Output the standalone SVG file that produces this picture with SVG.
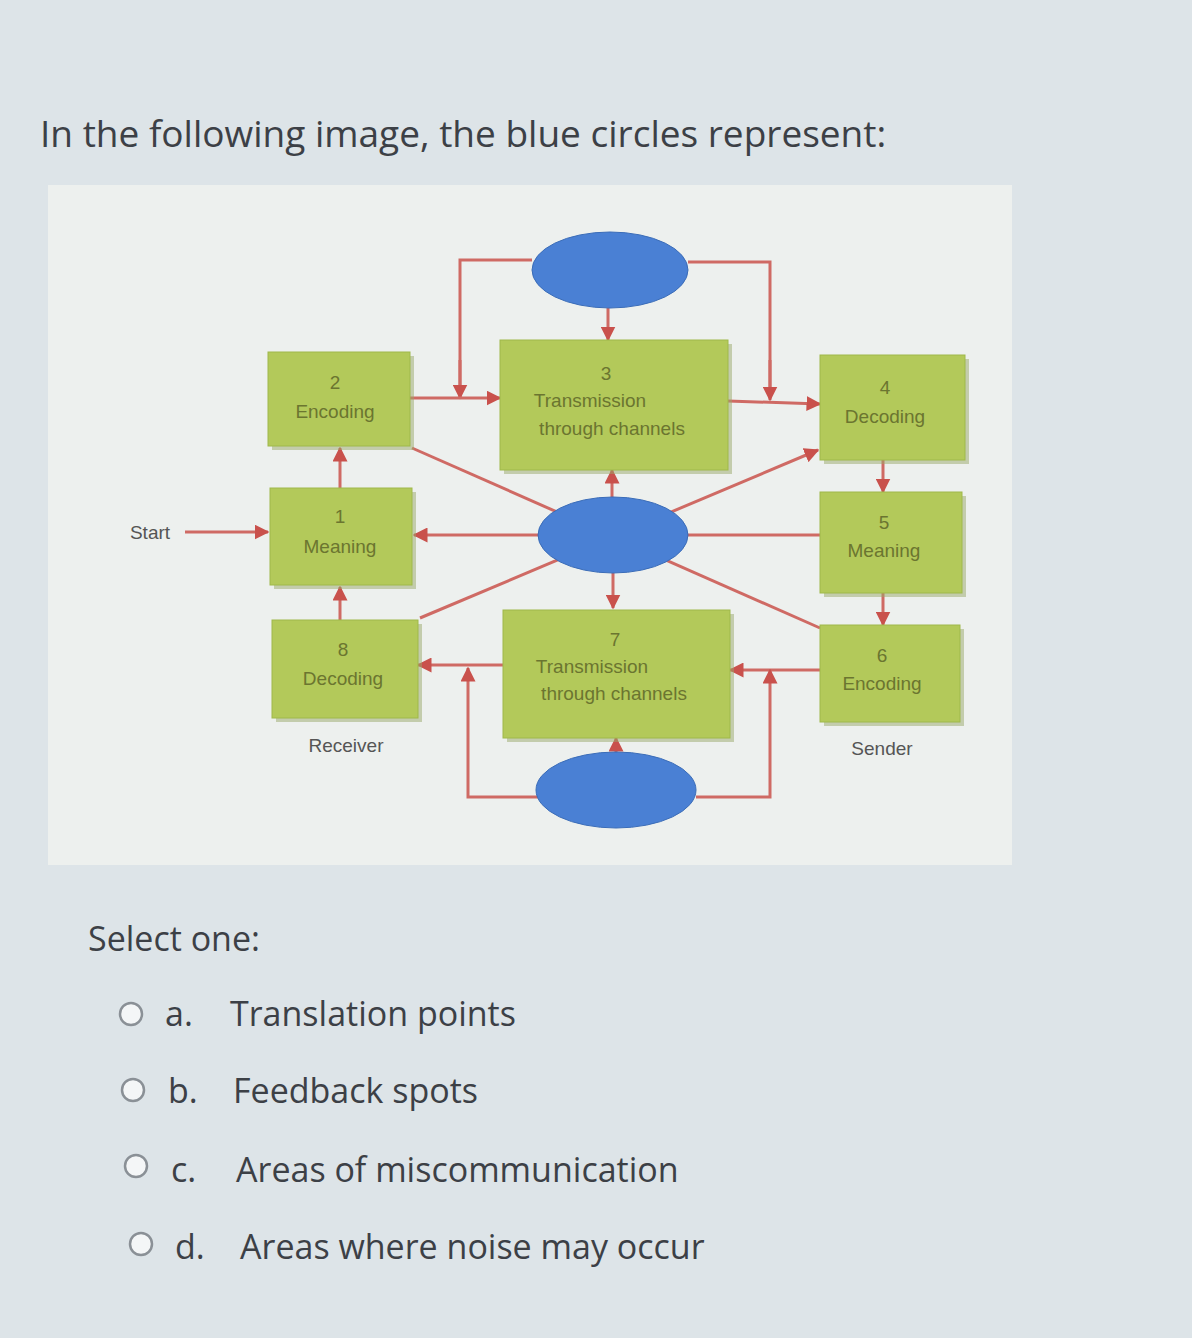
<svg xmlns="http://www.w3.org/2000/svg" width="1192" height="1338" viewBox="0 0 1192 1338">
<defs>
<marker id="ah" viewBox="0 0 10 10" refX="9" refY="5" markerWidth="5" markerHeight="5" orient="auto"><path d="M0,0L10,5L0,10z" fill="#c9514c"/></marker>
<style>
.bx{fill:#b3c95a;stroke:#9fb84a;stroke-width:1}
.sh{fill:#9aa86a;opacity:.5}
.el{fill:#4a80d4;stroke:#3a6cb8;stroke-width:1}
.ln{stroke:#cf6a64;stroke-width:3;fill:none}
.ar{stroke:#cf6a64;stroke-width:3;fill:none;marker-end:url(#ah)}
.lb{font-family:"Liberation Sans",Arial,sans-serif;font-size:19px;fill:#6b7530;text-anchor:middle}
.op{font-family:"Open Sans","Liberation Sans",sans-serif;font-size:34px;fill:#3c4046}
.rd{fill:#f4f6f7;stroke:#8a9096;stroke-width:2.5}
</style>
</defs>
<rect width="1192" height="1338" fill="#dde4e8"/>
<rect x="48" y="185" width="964" height="680" fill="#edf0ee"/>
<text x="40" y="147" font-family="Open Sans, Liberation Sans, sans-serif" font-size="37" fill="#3c4046">In the following image, the blue circles represent:</text>
<g id="connectors">
<polyline class="ln" points="460,398 460,260 532,260"/>
<line class="ar" x1="460" y1="360" x2="460" y2="398"/>
<polyline class="ln" points="688,262 770,262 770,398"/>
<line class="ar" x1="770" y1="360" x2="770" y2="400"/>
<line class="ar" x1="410" y1="398" x2="500" y2="398"/>
<line class="ar" x1="728" y1="401" x2="820" y2="404"/>
<line class="ar" x1="608" y1="308" x2="608" y2="340"/>
<line class="ar" x1="185" y1="532" x2="268" y2="532"/>
<line class="ar" x1="340" y1="488" x2="340" y2="448"/>
<line class="ar" x1="340" y1="620" x2="340" y2="587"/>
<line class="ar" x1="883" y1="460" x2="883" y2="492"/>
<line class="ar" x1="883" y1="593" x2="883" y2="625"/>
<line class="ln" x1="412" y1="448" x2="820" y2="628"/>
<line class="ar" x1="420" y1="618" x2="818" y2="450"/>
<line class="ar" x1="820" y1="535" x2="414" y2="535"/>
<line class="ar" x1="612" y1="497" x2="612" y2="470"/>
<line class="ar" x1="613" y1="573" x2="613" y2="608"/>
<line class="ar" x1="503" y1="665" x2="418" y2="665"/>
<line class="ar" x1="820" y1="670" x2="730" y2="670"/>
<polyline class="ln" points="538,797 468,797 468,700"/>
<line class="ar" x1="468" y1="700" x2="468" y2="668"/>
<polyline class="ln" points="696,797 770,797 770,700"/>
<line class="ar" x1="770" y1="700" x2="770" y2="670"/>
<line class="ar" x1="616" y1="752" x2="616" y2="738"/>
</g>
<g id="top-ellipse"><ellipse class="el" cx="610" cy="270" rx="78" ry="38"/></g>
<g id="mid-ellipse"><ellipse class="el" cx="613" cy="535" rx="75" ry="38"/></g>
<g id="bot-ellipse"><ellipse class="el" cx="616" cy="790" rx="80" ry="38"/></g>
<g id="n2"><rect class="sh" x="272" y="356" width="142" height="94"/><rect class="bx" x="268" y="352" width="142" height="94"/><text class="lb" x="335" y="389">2</text><text class="lb" x="335" y="418">Encoding</text></g>
<g id="n1"><rect class="sh" x="274" y="492" width="142" height="97"/><rect class="bx" x="270" y="488" width="142" height="97"/><text class="lb" x="340" y="523">1</text><text class="lb" x="340" y="553">Meaning</text></g>
<g id="n8"><rect class="sh" x="276" y="624" width="146" height="98"/><rect class="bx" x="272" y="620" width="146" height="98"/><text class="lb" x="343" y="656">8</text><text class="lb" x="343" y="685">Decoding</text></g>
<g id="n3"><rect class="sh" x="504" y="344" width="228" height="130"/><rect class="bx" x="500" y="340" width="228" height="130"/><text class="lb" x="606" y="380">3</text><text class="lb" x="590" y="407">Transmission</text><text class="lb" x="612" y="435">through channels</text></g>
<g id="n7"><rect class="sh" x="507" y="614" width="227" height="128"/><rect class="bx" x="503" y="610" width="227" height="128"/><text class="lb" x="615" y="646">7</text><text class="lb" x="592" y="673">Transmission</text><text class="lb" x="614" y="700">through channels</text></g>
<g id="n4"><rect class="sh" x="824" y="359" width="145" height="105"/><rect class="bx" x="820" y="355" width="145" height="105"/><text class="lb" x="885" y="394">4</text><text class="lb" x="885" y="423">Decoding</text></g>
<g id="n5"><rect class="sh" x="824" y="496" width="142" height="101"/><rect class="bx" x="820" y="492" width="142" height="101"/><text class="lb" x="884" y="529">5</text><text class="lb" x="884" y="557">Meaning</text></g>
<g id="n6"><rect class="sh" x="824" y="629" width="140" height="97"/><rect class="bx" x="820" y="625" width="140" height="97"/><text class="lb" x="882" y="662">6</text><text class="lb" x="882" y="690">Encoding</text></g>
<text x="150" y="539" font-family="Liberation Sans, Arial, sans-serif" font-size="19" fill="#555" text-anchor="middle">Start</text>
<text x="346" y="752" font-family="Liberation Sans, Arial, sans-serif" font-size="19" fill="#555" text-anchor="middle">Receiver</text>
<text x="882" y="755" font-family="Liberation Sans, Arial, sans-serif" font-size="19" fill="#555" text-anchor="middle">Sender</text>
<text x="88" y="951" class="op">Select one:</text>
<circle class="rd" cx="131" cy="1014" r="11"/><text class="op" x="165" y="1026">a.</text><text class="op" x="230" y="1026">Translation points</text>
<circle class="rd" cx="133" cy="1090" r="11"/><text class="op" x="168" y="1103">b.</text><text class="op" x="233" y="1103">Feedback spots</text>
<circle class="rd" cx="136" cy="1166" r="11"/><text class="op" x="171" y="1182">c.</text><text class="op" x="236" y="1182">Areas of miscommunication</text>
<circle class="rd" cx="141" cy="1244" r="11"/><text class="op" x="175" y="1259">d.</text><text class="op" x="240" y="1259">Areas where noise may occur</text>
</svg>
